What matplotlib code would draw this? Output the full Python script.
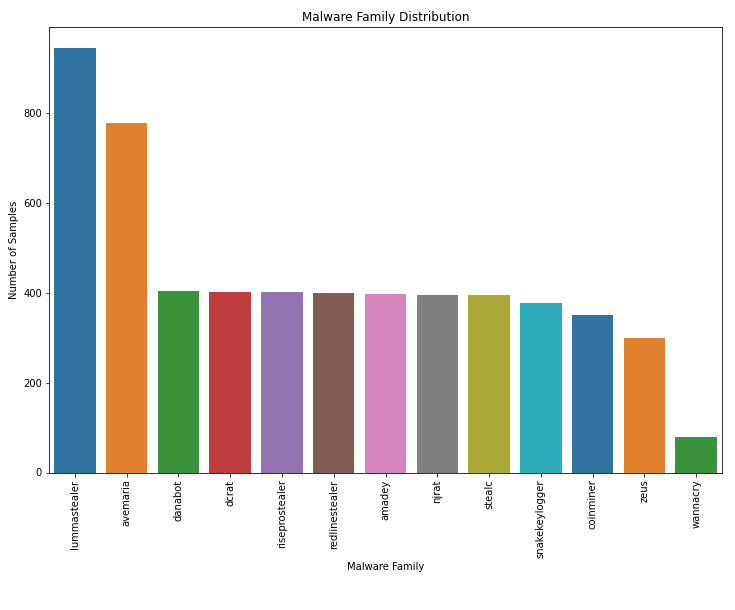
import matplotlib
matplotlib.use('Agg')
import matplotlib.pyplot as plt
import seaborn as sns
import pandas as pd

families = ['lummastealer', 'avemaria', 'danabot', 'dcrat', 'riseprostealer',
            'redlinestealer', 'amadey', 'njrat', 'stealc', 'snakekeylogger',
            'coinminer', 'zeus', 'wannacry']
counts = [944, 777, 404, 402, 402, 400, 397, 395, 395, 378, 350, 300, 79]

df = pd.DataFrame({'family': families, 'count': counts})

DPI = 72
fig = plt.figure(figsize=(735 / DPI, 610 / DPI), dpi=DPI)
ax = fig.add_axes([49 / 735, 1 - 472.5 / 610, 673 / 735, 445.5 / 610])
palette = sns.color_palette('tab10', 10)
colors = [palette[i % 10] for i in range(len(families))]
sns.barplot(data=df, x='family', y='count', hue='family', palette=colors,
            legend=False, ax=ax)
ax.set_title('Malware Family Distribution')
ax.set_xlabel('Malware Family')
ax.set_ylabel('Number of Samples')
ax.tick_params(axis='x', rotation=90)
ax.set_yticks([0, 200, 400, 600, 800])
fig.savefig('out.png', dpi=DPI)
